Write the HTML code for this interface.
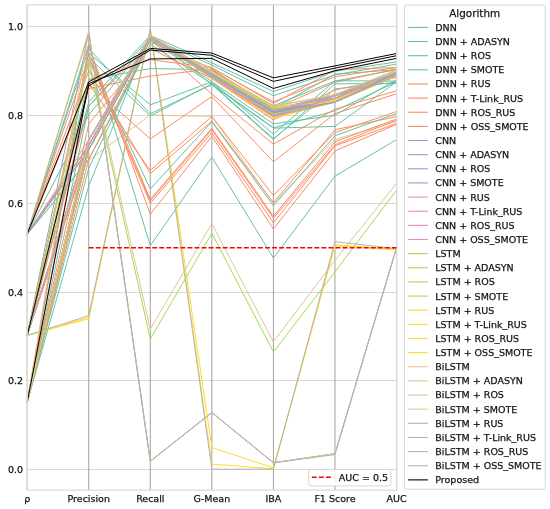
<!DOCTYPE html>
<html><head><meta charset="utf-8"><style>
html,body{margin:0;padding:0;background:#fff;}
svg{display:block;}
.t{font-family:"DejaVu Sans","Liberation Sans",sans-serif;font-size:9.5px;fill:#141414;stroke:#141414;stroke-width:0.25px;}
.tt{font-family:"DejaVu Sans","Liberation Sans",sans-serif;font-size:10.4px;fill:#141414;stroke:#141414;stroke-width:0.25px;}
</style></head><body>
<svg width="550" height="509" viewBox="0 0 550 509">
<rect x="27.2" y="4.7" width="369.3" height="485.5" fill="#fff" stroke="none"/>
<line x1="27.2" y1="469.50" x2="396.5" y2="469.50" stroke="#d9d9d9" stroke-width="1"/>
<line x1="27.2" y1="380.50" x2="396.5" y2="380.50" stroke="#d9d9d9" stroke-width="1"/>
<line x1="27.2" y1="292.50" x2="396.5" y2="292.50" stroke="#d9d9d9" stroke-width="1"/>
<line x1="27.2" y1="203.50" x2="396.5" y2="203.50" stroke="#d9d9d9" stroke-width="1"/>
<line x1="27.2" y1="115.50" x2="396.5" y2="115.50" stroke="#d9d9d9" stroke-width="1"/>
<line x1="27.2" y1="26.50" x2="396.5" y2="26.50" stroke="#d9d9d9" stroke-width="1"/>
<line x1="27.20" y1="4.7" x2="27.20" y2="490.2" stroke="#a0a0a0" stroke-width="1"/>
<line x1="88.75" y1="4.7" x2="88.75" y2="490.2" stroke="#a0a0a0" stroke-width="1"/>
<line x1="150.30" y1="4.7" x2="150.30" y2="490.2" stroke="#a0a0a0" stroke-width="1"/>
<line x1="211.85" y1="4.7" x2="211.85" y2="490.2" stroke="#a0a0a0" stroke-width="1"/>
<line x1="273.40" y1="4.7" x2="273.40" y2="490.2" stroke="#a0a0a0" stroke-width="1"/>
<line x1="334.95" y1="4.7" x2="334.95" y2="490.2" stroke="#a0a0a0" stroke-width="1"/>
<line x1="396.50" y1="4.7" x2="396.50" y2="490.2" stroke="#a0a0a0" stroke-width="1"/>
<polyline points="27.20,234.13 88.75,30.93 150.30,461.23 211.85,412.53 273.40,462.78 334.95,453.71 396.50,247.85" fill="none" stroke="#ffd92f" stroke-width="1"/>
<polyline points="27.20,335.50 88.75,31.81 150.30,461.23 211.85,412.53 273.40,462.78 334.95,453.71 396.50,247.85" fill="none" stroke="#8da0cb" stroke-width="1"/>
<polyline points="27.20,402.35 88.75,149.57 150.30,38.01 211.85,74.41 273.40,111.59 334.95,102.08 396.50,72.88" fill="none" stroke="#ffd92f" stroke-width="1"/>
<polyline points="27.20,402.35 88.75,149.57 150.30,38.01 211.85,75.77 273.40,113.86 334.95,102.08 396.50,74.12" fill="none" stroke="#b3b3b3" stroke-width="1"/>
<polyline points="27.20,335.50 88.75,149.57 150.30,38.01 211.85,78.01 273.40,117.58 334.95,102.08 396.50,76.16" fill="none" stroke="#e5c494" stroke-width="1"/>
<polyline points="27.20,402.35 88.75,139.83 150.30,38.01 211.85,72.64 273.40,108.63 334.95,95.74 396.50,71.25" fill="none" stroke="#b3b3b3" stroke-width="1"/>
<polyline points="27.20,234.13 88.75,139.83 150.30,35.35 211.85,74.76 273.40,111.78 334.95,94.74 396.50,72.97" fill="none" stroke="#e78ac3" stroke-width="1"/>
<polyline points="27.20,234.13 88.75,145.14 150.30,35.35 211.85,73.39 273.40,109.50 334.95,98.20 396.50,71.72" fill="none" stroke="#8da0cb" stroke-width="1"/>
<polyline points="27.20,335.50 88.75,139.83 150.30,38.01 211.85,77.88 273.40,117.35 334.95,95.74 396.50,76.04" fill="none" stroke="#e5c494" stroke-width="1"/>
<polyline points="27.20,335.50 88.75,145.14 150.30,35.35 211.85,74.63 273.40,111.58 334.95,98.20 396.50,72.86" fill="none" stroke="#8da0cb" stroke-width="1"/>
<polyline points="27.20,234.13 88.75,160.20 150.30,115.04 211.85,116.37 273.40,203.58 334.95,139.39 396.50,121.68" fill="none" stroke="#e5c494" stroke-width="1"/>
<polyline points="27.20,335.50 88.75,149.57 150.30,35.35 211.85,74.24 273.40,110.91 334.95,101.12 396.50,72.49" fill="none" stroke="#a6d854" stroke-width="1"/>
<polyline points="27.20,402.35 88.75,139.83 150.30,38.01 211.85,78.07 273.40,117.67 334.95,95.74 396.50,76.21" fill="none" stroke="#8da0cb" stroke-width="1"/>
<polyline points="27.20,402.35 88.75,149.57 150.30,35.35 211.85,75.82 273.40,113.55 334.95,101.12 396.50,73.93" fill="none" stroke="#ffd92f" stroke-width="1"/>
<polyline points="27.20,234.13 88.75,139.83 150.30,35.35 211.85,75.71 273.40,113.37 334.95,94.74 396.50,73.83" fill="none" stroke="#e5c494" stroke-width="1"/>
<polyline points="27.20,234.13 88.75,149.57 150.30,38.01 211.85,75.81 273.40,113.92 334.95,102.08 396.50,74.15" fill="none" stroke="#8da0cb" stroke-width="1"/>
<polyline points="27.20,402.35 88.75,149.57 150.30,35.35 211.85,75.02 273.40,112.21 334.95,101.12 396.50,73.20" fill="none" stroke="#e78ac3" stroke-width="1"/>
<polyline points="27.20,402.35 88.75,139.83 150.30,38.01 211.85,74.77 273.40,112.19 334.95,95.74 396.50,73.21" fill="none" stroke="#b3b3b3" stroke-width="1"/>
<polyline points="27.20,335.50 88.75,139.83 150.30,38.01 211.85,77.95 273.40,117.47 334.95,95.74 396.50,76.10" fill="none" stroke="#b3b3b3" stroke-width="1"/>
<polyline points="27.20,335.50 88.75,139.83 150.30,38.01 211.85,78.17 273.40,117.84 334.95,95.74 396.50,76.30" fill="none" stroke="#a6d854" stroke-width="1"/>
<polyline points="27.20,402.35 88.75,139.83 150.30,35.35 211.85,73.53 273.40,109.73 334.95,94.74 396.50,71.85" fill="none" stroke="#8da0cb" stroke-width="1"/>
<polyline points="27.20,335.50 88.75,318.68 150.30,28.71 211.85,447.51 273.40,467.87 334.95,245.64 396.50,250.06" fill="none" stroke="#ffd92f" stroke-width="1"/>
<polyline points="27.20,234.13 88.75,145.14 150.30,38.01 211.85,74.44 273.40,111.64 334.95,99.18 396.50,72.90" fill="none" stroke="#a6d854" stroke-width="1"/>
<polyline points="27.20,234.13 88.75,149.57 150.30,35.35 211.85,72.36 273.40,107.78 334.95,101.12 396.50,70.79" fill="none" stroke="#ffd92f" stroke-width="1"/>
<polyline points="27.20,335.50 88.75,149.57 150.30,38.01 211.85,75.27 273.40,113.03 334.95,102.08 396.50,73.66" fill="none" stroke="#8da0cb" stroke-width="1"/>
<polyline points="27.20,234.13 88.75,145.14 150.30,38.01 211.85,73.35 273.40,109.81 334.95,99.18 396.50,71.90" fill="none" stroke="#b3b3b3" stroke-width="1"/>
<polyline points="27.20,234.13 88.75,145.14 150.30,38.01 211.85,75.42 273.40,113.28 334.95,99.18 396.50,73.80" fill="none" stroke="#e78ac3" stroke-width="1"/>
<polyline points="27.20,335.50 88.75,149.57 150.30,38.01 211.85,75.13 273.40,112.79 334.95,102.08 396.50,73.53" fill="none" stroke="#e78ac3" stroke-width="1"/>
<polyline points="27.20,402.35 88.75,149.57 150.30,35.35 211.85,71.49 273.40,106.32 334.95,101.12 396.50,69.99" fill="none" stroke="#e5c494" stroke-width="1"/>
<polyline points="27.20,402.35 88.75,139.83 150.30,38.01 211.85,74.94 273.40,112.48 334.95,95.74 396.50,73.36" fill="none" stroke="#8da0cb" stroke-width="1"/>
<polyline points="27.20,402.35 88.75,149.57 150.30,38.01 211.85,78.07 273.40,117.67 334.95,102.08 396.50,76.21" fill="none" stroke="#a6d854" stroke-width="1"/>
<polyline points="27.20,402.35 88.75,149.57 150.30,35.35 211.85,76.14 273.40,114.09 334.95,101.12 396.50,74.23" fill="none" stroke="#ffd92f" stroke-width="1"/>
<polyline points="27.20,402.35 88.75,149.57 150.30,38.01 211.85,77.68 273.40,117.02 334.95,102.08 396.50,75.85" fill="none" stroke="#e5c494" stroke-width="1"/>
<polyline points="27.20,234.13 88.75,149.57 150.30,38.01 211.85,76.77 273.40,115.51 334.95,102.08 396.50,75.03" fill="none" stroke="#e5c494" stroke-width="1"/>
<polyline points="27.20,402.35 88.75,139.83 150.30,38.01 211.85,75.97 273.40,114.18 334.95,95.74 396.50,74.30" fill="none" stroke="#a6d854" stroke-width="1"/>
<polyline points="27.20,402.35 88.75,139.83 150.30,38.01 211.85,74.29 273.40,111.39 334.95,95.74 396.50,72.76" fill="none" stroke="#e78ac3" stroke-width="1"/>
<polyline points="27.20,402.35 88.75,149.57 150.30,38.01 211.85,78.33 273.40,118.10 334.95,102.08 396.50,76.44" fill="none" stroke="#ffd92f" stroke-width="1"/>
<polyline points="27.20,234.13 88.75,44.21 150.30,245.64 211.85,157.13 273.40,258.03 334.95,176.20 396.50,139.61" fill="none" stroke="#66c2a5" stroke-width="1"/>
<polyline points="27.20,234.13 88.75,48.63 150.30,113.71 211.85,84.58 273.40,139.62 334.95,83.90 396.50,83.39" fill="none" stroke="#66c2a5" stroke-width="1"/>
<polyline points="27.20,234.13 88.75,115.04 150.30,39.78 211.85,70.78 273.40,105.79 334.95,81.02 396.50,69.66" fill="none" stroke="#66c2a5" stroke-width="1"/>
<polyline points="27.20,234.13 88.75,159.31 150.30,44.21 211.85,83.67 273.40,127.75 334.95,110.77 396.50,81.84" fill="none" stroke="#66c2a5" stroke-width="1"/>
<polyline points="27.20,234.13 88.75,84.05 150.30,138.95 211.85,96.52 273.40,161.86 334.95,113.60 396.50,93.79" fill="none" stroke="#fc8d62" stroke-width="1"/>
<polyline points="27.20,234.13 88.75,84.05 150.30,170.38 211.85,116.38 273.40,195.49 334.95,132.66 396.50,111.50" fill="none" stroke="#fc8d62" stroke-width="1"/>
<polyline points="27.20,234.13 88.75,70.77 150.30,173.48 211.85,121.21 273.40,202.69 334.95,129.72 396.50,116.59" fill="none" stroke="#fc8d62" stroke-width="1"/>
<polyline points="27.20,234.13 88.75,57.49 150.30,203.14 211.85,132.76 273.40,222.72 334.95,145.96 396.50,123.45" fill="none" stroke="#fc8d62" stroke-width="1"/>
<polyline points="27.20,335.50 88.75,101.76 150.30,35.35 211.85,62.78 273.40,91.62 334.95,71.31 396.50,61.92" fill="none" stroke="#66c2a5" stroke-width="1"/>
<polyline points="27.20,335.50 88.75,57.49 150.30,188.97 211.85,121.68 273.40,205.69 334.95,135.72 396.50,113.60" fill="none" stroke="#66c2a5" stroke-width="1"/>
<polyline points="27.20,335.50 88.75,57.49 150.30,115.93 211.85,83.75 273.40,138.69 334.95,88.94 396.50,82.28" fill="none" stroke="#66c2a5" stroke-width="1"/>
<polyline points="27.20,335.50 88.75,79.62 150.30,68.56 211.85,69.66 273.40,108.44 334.95,74.17 396.50,69.66" fill="none" stroke="#66c2a5" stroke-width="1"/>
<polyline points="27.20,335.50 88.75,106.19 150.30,41.99 211.85,68.26 273.40,101.90 334.95,76.70 396.50,67.45" fill="none" stroke="#fc8d62" stroke-width="1"/>
<polyline points="27.20,335.50 88.75,53.06 150.30,199.15 211.85,128.32 273.40,216.22 334.95,141.66 396.50,119.02" fill="none" stroke="#fc8d62" stroke-width="1"/>
<polyline points="27.20,335.50 88.75,58.82 150.30,200.92 211.85,129.61 273.40,218.21 334.95,144.75 396.50,120.13" fill="none" stroke="#fc8d62" stroke-width="1"/>
<polyline points="27.20,335.50 88.75,88.48 150.30,76.08 211.85,69.06 273.40,108.69 334.95,82.38 396.50,69.00" fill="none" stroke="#fc8d62" stroke-width="1"/>
<polyline points="27.20,402.35 88.75,53.06 150.30,104.86 211.85,81.90 273.40,133.99 334.95,80.68 396.50,81.17" fill="none" stroke="#66c2a5" stroke-width="1"/>
<polyline points="27.20,402.35 88.75,106.19 150.30,37.57 211.85,65.00 273.40,95.73 334.95,74.84 396.50,64.13" fill="none" stroke="#66c2a5" stroke-width="1"/>
<polyline points="27.20,402.35 88.75,168.16 150.30,39.78 211.85,81.67 273.40,123.85 334.95,115.25 396.50,79.62" fill="none" stroke="#66c2a5" stroke-width="1"/>
<polyline points="27.20,402.35 88.75,185.87 150.30,35.35 211.85,84.64 273.40,128.12 334.95,126.41 396.50,81.84" fill="none" stroke="#66c2a5" stroke-width="1"/>
<polyline points="27.20,402.35 88.75,45.98 150.30,214.20 211.85,136.25 273.40,228.96 334.95,150.96 396.50,124.34" fill="none" stroke="#fc8d62" stroke-width="1"/>
<polyline points="27.20,402.35 88.75,159.31 150.30,39.78 211.85,94.13 273.40,144.12 334.95,109.21 396.50,90.69" fill="none" stroke="#fc8d62" stroke-width="1"/>
<polyline points="27.20,402.35 88.75,79.62 150.30,59.70 211.85,67.52 273.40,103.47 334.95,69.91 396.50,67.45" fill="none" stroke="#fc8d62" stroke-width="1"/>
<polyline points="27.20,402.35 88.75,123.89 150.30,48.63 211.85,78.47 273.40,119.85 334.95,89.96 396.50,77.41" fill="none" stroke="#fc8d62" stroke-width="1"/>
<polyline points="27.20,402.35 88.75,149.57 150.30,38.01 211.85,74.68 273.40,112.04 334.95,102.08 396.50,73.12" fill="none" stroke="#8da0cb" stroke-width="1"/>
<polyline points="27.20,335.50 88.75,317.35 150.30,28.71 211.85,464.11 273.40,468.76 334.95,244.75 396.50,249.18" fill="none" stroke="#ffd92f" stroke-width="1"/>
<polyline points="27.20,402.35 88.75,149.57 150.30,35.35 211.85,76.58 273.40,114.82 334.95,101.12 396.50,74.62" fill="none" stroke="#e78ac3" stroke-width="1"/>
<polyline points="27.20,335.50 88.75,57.49 150.30,329.31 211.85,223.47 273.40,341.79 334.95,260.37 396.50,183.44" fill="none" stroke="#e5c494" stroke-width="1"/>
<polyline points="27.20,335.50 88.75,315.58 150.30,28.71 211.85,469.20 273.40,469.20 334.95,241.65 396.50,248.74" fill="none" stroke="#b3b3b3" stroke-width="1"/>
<polyline points="27.20,335.50 88.75,145.14 150.30,35.35 211.85,74.83 273.40,111.91 334.95,98.20 396.50,73.04" fill="none" stroke="#e78ac3" stroke-width="1"/>
<polyline points="27.20,335.50 88.75,149.57 150.30,35.35 211.85,71.90 273.40,107.01 334.95,101.12 396.50,70.36" fill="none" stroke="#e5c494" stroke-width="1"/>
<polyline points="27.20,335.50 88.75,145.14 150.30,38.01 211.85,77.81 273.40,117.24 334.95,99.18 396.50,75.97" fill="none" stroke="#ffd92f" stroke-width="1"/>
<polyline points="27.20,234.13 88.75,145.14 150.30,38.01 211.85,72.81 273.40,108.92 334.95,99.18 396.50,71.40" fill="none" stroke="#a6d854" stroke-width="1"/>
<polyline points="27.20,234.13 88.75,145.14 150.30,38.01 211.85,74.55 273.40,111.83 334.95,99.18 396.50,73.01" fill="none" stroke="#e78ac3" stroke-width="1"/>
<polyline points="27.20,234.13 88.75,145.14 150.30,38.01 211.85,76.11 273.40,114.42 334.95,99.18 396.50,74.43" fill="none" stroke="#a6d854" stroke-width="1"/>
<polyline points="27.20,402.35 88.75,139.83 150.30,35.35 211.85,71.39 273.40,106.15 334.95,94.74 396.50,69.90" fill="none" stroke="#a6d854" stroke-width="1"/>
<polyline points="27.20,234.13 88.75,149.57 150.30,38.01 211.85,77.32 273.40,116.43 334.95,102.08 396.50,75.53" fill="none" stroke="#a6d854" stroke-width="1"/>
<polyline points="27.20,234.13 88.75,145.14 150.30,38.01 211.85,76.78 273.40,115.53 334.95,99.18 396.50,75.04" fill="none" stroke="#e5c494" stroke-width="1"/>
<polyline points="27.20,234.13 88.75,145.14 150.30,35.35 211.85,73.58 273.40,109.81 334.95,98.20 396.50,71.89" fill="none" stroke="#ffd92f" stroke-width="1"/>
<polyline points="27.20,335.50 88.75,145.14 150.30,38.01 211.85,73.39 273.40,109.89 334.95,99.18 396.50,71.94" fill="none" stroke="#b3b3b3" stroke-width="1"/>
<polyline points="27.20,234.13 88.75,145.14 150.30,35.35 211.85,74.57 273.40,111.47 334.95,98.20 396.50,72.80" fill="none" stroke="#8da0cb" stroke-width="1"/>
<polyline points="27.20,402.35 88.75,145.14 150.30,35.35 211.85,76.72 273.40,115.05 334.95,98.20 396.50,74.75" fill="none" stroke="#b3b3b3" stroke-width="1"/>
<polyline points="27.20,335.50 88.75,145.14 150.30,38.01 211.85,77.98 273.40,117.53 334.95,99.18 396.50,76.13" fill="none" stroke="#ffd92f" stroke-width="1"/>
<polyline points="27.20,335.50 88.75,149.57 150.30,38.01 211.85,76.84 273.40,115.63 334.95,102.08 396.50,75.09" fill="none" stroke="#a6d854" stroke-width="1"/>
<polyline points="27.20,335.50 88.75,139.83 150.30,38.01 211.85,77.34 273.40,116.46 334.95,95.74 396.50,75.54" fill="none" stroke="#8da0cb" stroke-width="1"/>
<polyline points="27.20,402.35 88.75,145.14 150.30,35.35 211.85,76.70 273.40,115.02 334.95,98.20 396.50,74.73" fill="none" stroke="#e78ac3" stroke-width="1"/>
<polyline points="27.20,335.50 88.75,149.57 150.30,38.01 211.85,77.17 273.40,116.18 334.95,102.08 396.50,75.39" fill="none" stroke="#e78ac3" stroke-width="1"/>
<polyline points="27.20,234.13 88.75,145.14 150.30,35.35 211.85,73.81 273.40,110.19 334.95,98.20 396.50,72.10" fill="none" stroke="#b3b3b3" stroke-width="1"/>
<polyline points="27.20,234.13 88.75,149.57 150.30,35.35 211.85,71.91 273.40,107.02 334.95,101.12 396.50,70.37" fill="none" stroke="#ffd92f" stroke-width="1"/>
<polyline points="27.20,234.13 88.75,149.57 150.30,38.01 211.85,75.60 273.40,113.57 334.95,102.08 396.50,73.96" fill="none" stroke="#b3b3b3" stroke-width="1"/>
<polyline points="27.20,234.13 88.75,145.14 150.30,35.35 211.85,76.82 273.40,115.22 334.95,98.20 396.50,74.84" fill="none" stroke="#e78ac3" stroke-width="1"/>
<polyline points="27.20,335.50 88.75,139.83 150.30,38.01 211.85,73.88 273.40,110.71 334.95,95.74 396.50,72.39" fill="none" stroke="#e78ac3" stroke-width="1"/>
<polyline points="27.20,402.35 88.75,149.57 150.30,38.01 211.85,75.84 273.40,113.97 334.95,102.08 396.50,74.18" fill="none" stroke="#a6d854" stroke-width="1"/>
<polyline points="27.20,234.13 88.75,149.57 150.30,38.01 211.85,74.92 273.40,112.44 334.95,102.08 396.50,73.34" fill="none" stroke="#8da0cb" stroke-width="1"/>
<polyline points="27.20,402.35 88.75,139.83 150.30,35.35 211.85,71.60 273.40,106.50 334.95,94.74 396.50,70.08" fill="none" stroke="#e5c494" stroke-width="1"/>
<polyline points="27.20,335.50 88.75,139.83 150.30,38.01 211.85,73.80 273.40,110.57 334.95,95.74 396.50,72.31" fill="none" stroke="#b3b3b3" stroke-width="1"/>
<polyline points="27.20,335.50 88.75,61.92 150.30,339.05 211.85,233.28 273.40,351.92 334.95,271.93 396.50,190.30" fill="none" stroke="#a6d854" stroke-width="1"/>
<polyline points="27.20,402.35 88.75,30.93 150.30,461.23 211.85,412.53 273.40,462.78 334.95,453.71 396.50,247.85" fill="none" stroke="#e5c494" stroke-width="1"/>
<polyline points="27.20,234.13 88.75,33.14 150.30,461.23 211.85,412.53 273.40,462.78 334.95,454.59 396.50,247.85" fill="none" stroke="#b3b3b3" stroke-width="1"/>
<polyline points="27.20,234.13 88.75,81.84 150.30,48.41 211.85,53.06 273.40,77.85 334.95,65.90 396.50,53.50" fill="none" stroke="#000000" stroke-width="1"/>
<polyline points="27.20,335.50 88.75,85.82 150.30,50.10 211.85,55.28 273.40,81.39 334.95,68.11 396.50,55.72" fill="none" stroke="#000000" stroke-width="1"/>
<polyline points="27.20,402.35 88.75,83.61 150.30,58.91 211.85,58.37 273.40,88.48 334.95,70.77 396.50,58.37" fill="none" stroke="#000000" stroke-width="1"/>
<rect x="27.2" y="4.7" width="369.6" height="485.5" fill="none" stroke="#dedede" stroke-width="1.4"/>
<line x1="88.75" y1="247.85" x2="396.50" y2="247.85" stroke="#ff0000" stroke-width="1.5" stroke-dasharray="4.95 2.1"/>
<text x="23" y="472.90" text-anchor="end" class="t">0.0</text>
<text x="23" y="384.36" text-anchor="end" class="t">0.2</text>
<text x="23" y="295.82" text-anchor="end" class="t">0.4</text>
<text x="23" y="207.28" text-anchor="end" class="t">0.6</text>
<text x="23" y="118.74" text-anchor="end" class="t">0.8</text>
<text x="23" y="30.20" text-anchor="end" class="t">1.0</text>
<text x="27.20" y="501.7" text-anchor="middle" class="t">ρ</text>
<text x="88.75" y="501.7" text-anchor="middle" class="t">Precision</text>
<text x="150.30" y="501.7" text-anchor="middle" class="t">Recall</text>
<text x="211.85" y="501.7" text-anchor="middle" class="t">G-Mean</text>
<text x="273.40" y="501.7" text-anchor="middle" class="t">IBA</text>
<text x="334.95" y="501.7" text-anchor="middle" class="t">F1 Score</text>
<text x="396.50" y="501.7" text-anchor="middle" class="t">AUC</text>
<rect x="308.7" y="469.5" width="82.2" height="16.4" rx="2.5" fill="#fff" fill-opacity="0.9" stroke="#d6d6d6" stroke-width="1"/>
<line x1="311.8" y1="477.2" x2="330.9" y2="477.2" stroke="#ff0000" stroke-width="1.5" stroke-dasharray="4.95 2.1"/>
<text x="338.8" y="480.6" class="t">AUC = 0.5</text>
<rect x="404.4" y="5.1" width="140.9" height="484.1" rx="2" fill="#fff" stroke="#d6d6d6" stroke-width="1"/>
<text x="474.7" y="16.6" text-anchor="middle" class="tt">Algorithm</text>
<line x1="408.1" y1="27.40" x2="427.8" y2="27.40" stroke="#66c2a5" stroke-width="1.1"/>
<text x="435.3" y="30.85" class="t">DNN</text>
<line x1="408.1" y1="41.54" x2="427.8" y2="41.54" stroke="#66c2a5" stroke-width="1.1"/>
<text x="435.3" y="44.99" class="t">DNN + ADASYN</text>
<line x1="408.1" y1="55.68" x2="427.8" y2="55.68" stroke="#66c2a5" stroke-width="1.1"/>
<text x="435.3" y="59.13" class="t">DNN + ROS</text>
<line x1="408.1" y1="69.82" x2="427.8" y2="69.82" stroke="#66c2a5" stroke-width="1.1"/>
<text x="435.3" y="73.27" class="t">DNN + SMOTE</text>
<line x1="408.1" y1="83.96" x2="427.8" y2="83.96" stroke="#fc8d62" stroke-width="1.1"/>
<text x="435.3" y="87.41" class="t">DNN + RUS</text>
<line x1="408.1" y1="98.10" x2="427.8" y2="98.10" stroke="#fc8d62" stroke-width="1.1"/>
<text x="435.3" y="101.55" class="t">DNN + T-Link_RUS</text>
<line x1="408.1" y1="112.24" x2="427.8" y2="112.24" stroke="#fc8d62" stroke-width="1.1"/>
<text x="435.3" y="115.69" class="t">DNN + ROS_RUS</text>
<line x1="408.1" y1="126.38" x2="427.8" y2="126.38" stroke="#fc8d62" stroke-width="1.1"/>
<text x="435.3" y="129.83" class="t">DNN + OSS_SMOTE</text>
<line x1="408.1" y1="140.52" x2="427.8" y2="140.52" stroke="#8da0cb" stroke-width="1.1"/>
<text x="435.3" y="143.97" class="t">CNN</text>
<line x1="408.1" y1="154.66" x2="427.8" y2="154.66" stroke="#8da0cb" stroke-width="1.1"/>
<text x="435.3" y="158.11" class="t">CNN + ADASYN</text>
<line x1="408.1" y1="168.80" x2="427.8" y2="168.80" stroke="#8da0cb" stroke-width="1.1"/>
<text x="435.3" y="172.25" class="t">CNN + ROS</text>
<line x1="408.1" y1="182.94" x2="427.8" y2="182.94" stroke="#8da0cb" stroke-width="1.1"/>
<text x="435.3" y="186.39" class="t">CNN + SMOTE</text>
<line x1="408.1" y1="197.08" x2="427.8" y2="197.08" stroke="#e78ac3" stroke-width="1.1"/>
<text x="435.3" y="200.53" class="t">CNN + RUS</text>
<line x1="408.1" y1="211.22" x2="427.8" y2="211.22" stroke="#e78ac3" stroke-width="1.1"/>
<text x="435.3" y="214.67" class="t">CNN + T-Link_RUS</text>
<line x1="408.1" y1="225.36" x2="427.8" y2="225.36" stroke="#e78ac3" stroke-width="1.1"/>
<text x="435.3" y="228.81" class="t">CNN + ROS_RUS</text>
<line x1="408.1" y1="239.50" x2="427.8" y2="239.50" stroke="#e78ac3" stroke-width="1.1"/>
<text x="435.3" y="242.95" class="t">CNN + OSS_SMOTE</text>
<line x1="408.1" y1="253.64" x2="427.8" y2="253.64" stroke="#a6d854" stroke-width="1.1"/>
<text x="435.3" y="257.09" class="t">LSTM</text>
<line x1="408.1" y1="267.78" x2="427.8" y2="267.78" stroke="#a6d854" stroke-width="1.1"/>
<text x="435.3" y="271.23" class="t">LSTM + ADASYN</text>
<line x1="408.1" y1="281.92" x2="427.8" y2="281.92" stroke="#a6d854" stroke-width="1.1"/>
<text x="435.3" y="285.37" class="t">LSTM + ROS</text>
<line x1="408.1" y1="296.06" x2="427.8" y2="296.06" stroke="#a6d854" stroke-width="1.1"/>
<text x="435.3" y="299.51" class="t">LSTM + SMOTE</text>
<line x1="408.1" y1="310.20" x2="427.8" y2="310.20" stroke="#ffd92f" stroke-width="1.1"/>
<text x="435.3" y="313.65" class="t">LSTM + RUS</text>
<line x1="408.1" y1="324.34" x2="427.8" y2="324.34" stroke="#ffd92f" stroke-width="1.1"/>
<text x="435.3" y="327.79" class="t">LSTM + T-Link_RUS</text>
<line x1="408.1" y1="338.48" x2="427.8" y2="338.48" stroke="#ffd92f" stroke-width="1.1"/>
<text x="435.3" y="341.93" class="t">LSTM + ROS_RUS</text>
<line x1="408.1" y1="352.62" x2="427.8" y2="352.62" stroke="#ffd92f" stroke-width="1.1"/>
<text x="435.3" y="356.07" class="t">LSTM + OSS_SMOTE</text>
<line x1="408.1" y1="366.76" x2="427.8" y2="366.76" stroke="#e5c494" stroke-width="1.1"/>
<text x="435.3" y="370.21" class="t">BiLSTM</text>
<line x1="408.1" y1="380.90" x2="427.8" y2="380.90" stroke="#e5c494" stroke-width="1.1"/>
<text x="435.3" y="384.35" class="t">BiLSTM + ADASYN</text>
<line x1="408.1" y1="395.04" x2="427.8" y2="395.04" stroke="#e5c494" stroke-width="1.1"/>
<text x="435.3" y="398.49" class="t">BiLSTM + ROS</text>
<line x1="408.1" y1="409.18" x2="427.8" y2="409.18" stroke="#e5c494" stroke-width="1.1"/>
<text x="435.3" y="412.63" class="t">BiLSTM + SMOTE</text>
<line x1="408.1" y1="423.32" x2="427.8" y2="423.32" stroke="#b3b3b3" stroke-width="1.1"/>
<text x="435.3" y="426.77" class="t">BiLSTM + RUS</text>
<line x1="408.1" y1="437.46" x2="427.8" y2="437.46" stroke="#b3b3b3" stroke-width="1.1"/>
<text x="435.3" y="440.91" class="t">BiLSTM + T-Link_RUS</text>
<line x1="408.1" y1="451.60" x2="427.8" y2="451.60" stroke="#b3b3b3" stroke-width="1.1"/>
<text x="435.3" y="455.05" class="t">BiLSTM + ROS_RUS</text>
<line x1="408.1" y1="465.74" x2="427.8" y2="465.74" stroke="#b3b3b3" stroke-width="1.1"/>
<text x="435.3" y="469.19" class="t">BiLSTM + OSS_SMOTE</text>
<line x1="408.1" y1="479.88" x2="427.8" y2="479.88" stroke="#000000" stroke-width="1.1"/>
<text x="435.3" y="483.33" class="t">Proposed</text>
</svg>
</body></html>
